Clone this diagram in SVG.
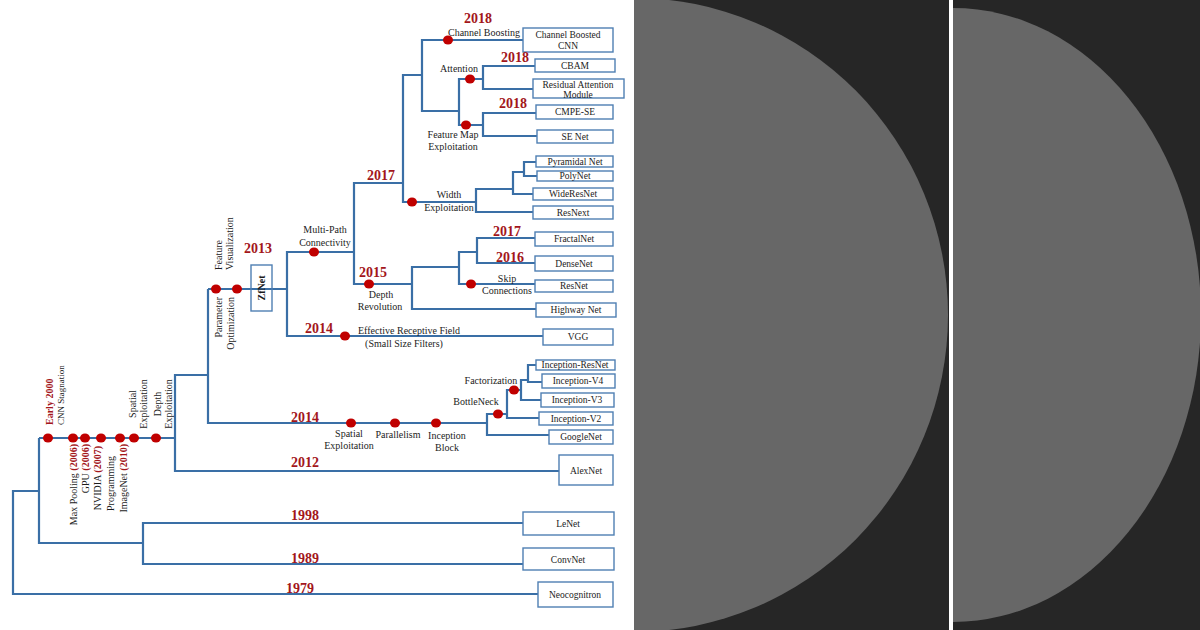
<svg xmlns="http://www.w3.org/2000/svg" width="1200" height="630" viewBox="0 0 1200 630">
<style>
text{font-family:"Liberation Serif","Times New Roman",serif;fill:#1c1c1c}
.lbl{font-size:10px;text-anchor:middle}
.bt{font-size:9.5px;text-anchor:middle}
.yr{font-size:14px;font-weight:bold;fill:#a3161b;text-anchor:middle}
.ry{font-weight:bold;fill:#a3161b}
.rt{font-size:10px}
.box{fill:#fff;stroke:#4f7fb3;stroke-width:1.4}
.ln{fill:none;stroke:#3a6fa6;stroke-width:2.2;stroke-linejoin:miter}
.dot{fill:#c00000}
</style>
<rect x="0" y="0" width="1200" height="630" fill="#fff"/>
<g id="panel">
<rect x="634" y="0" width="315" height="630" fill="#262626"/>
<rect x="953" y="0" width="247" height="630" fill="#262626"/>
<path d="M634,-2 A314,317 0 0 1 634,632 Z" fill="#676767"/>
<path d="M953,8 A248,307 0 0 1 953,622 Z" fill="#676767"/>
</g>
<g id="connectors" class="ln">
<path d="M39,491 H13 V594 H538"/>
<path d="M39,438 V543 H143"/>
<path d="M523,523 H143 V564 H523"/>
<path d="M39,438 H175"/>
<path d="M208,375 H175 V471 H559"/>
<path d="M208,289 V423 H487"/>
<path d="M208,289 H287"/>
<path d="M354,252 H287 V336 H543"/>
<path d="M403,183 H354 V284 H412"/>
<path d="M422,75 H403 V202 H476"/>
<path d="M523,40 H422 V111 H459"/>
<path d="M483,79 H459 V125 H483"/>
<path d="M535,66 H483 V89 H533"/>
<path d="M536,113 H483 V136 H537"/>
<path d="M513,189 H476 V212 H533"/>
<path d="M524,172 H513 V194 H533"/>
<path d="M536,162 H524 V176 H537"/>
<path d="M459,267 H412 V309 H536"/>
<path d="M477,252 H459 V284 H535"/>
<path d="M535,238 H477 V263 H535"/>
<path d="M507,414 H487 V435 H549"/>
<path d="M521,390 H507 V418 H539"/>
<path d="M528,380 H521 V400 H541"/>
<path d="M536,365 H528 V382 H542"/>
</g>
<g id="dots">
<ellipse class="dot" cx="448" cy="40" rx="5" ry="4.6"/>
<ellipse class="dot" cx="470" cy="79" rx="5" ry="4.6"/>
<ellipse class="dot" cx="466" cy="125" rx="5" ry="4.6"/>
<ellipse class="dot" cx="412" cy="202" rx="5" ry="4.6"/>
<ellipse class="dot" cx="471" cy="284" rx="5" ry="4.6"/>
<ellipse class="dot" cx="369" cy="284" rx="5" ry="4.6"/>
<ellipse class="dot" cx="314" cy="252" rx="5" ry="4.6"/>
<ellipse class="dot" cx="345" cy="336" rx="5" ry="4.6"/>
<ellipse class="dot" cx="216" cy="289" rx="5" ry="4.6"/>
<ellipse class="dot" cx="237" cy="289" rx="5" ry="4.6"/>
<ellipse class="dot" cx="351" cy="423" rx="5" ry="4.6"/>
<ellipse class="dot" cx="395" cy="423" rx="5" ry="4.6"/>
<ellipse class="dot" cx="436" cy="423" rx="5" ry="4.6"/>
<ellipse class="dot" cx="498" cy="414" rx="5" ry="4.6"/>
<ellipse class="dot" cx="514" cy="390" rx="5" ry="4.6"/>
<ellipse class="dot" cx="48" cy="438" rx="5" ry="4.6"/>
<ellipse class="dot" cx="73" cy="438" rx="5" ry="4.6"/>
<ellipse class="dot" cx="85" cy="438" rx="5" ry="4.6"/>
<ellipse class="dot" cx="101" cy="438" rx="5" ry="4.6"/>
<ellipse class="dot" cx="120" cy="438" rx="5" ry="4.6"/>
<ellipse class="dot" cx="134" cy="438" rx="5" ry="4.6"/>
<ellipse class="dot" cx="156" cy="438" rx="5" ry="4.6"/>
</g>
<g id="n-cbcnn"><rect class="box" x="523" y="28" width="90" height="24"/><text class="bt" x="568" y="38">Channel Boosted</text><text class="bt" x="568" y="49">CNN</text></g>
<g id="n-cbam"><rect class="box" x="535" y="59" width="80" height="13"/><text class="bt" x="575" y="69">CBAM</text></g>
<g id="n-ram"><rect class="box" x="533" y="79" width="91" height="19"/><text class="bt" x="578" y="88">Residual Attention</text><text class="bt" x="578" y="98">Module</text></g>
<g id="n-cmpe"><rect class="box" x="536" y="105" width="77" height="14"/><text class="bt" x="575" y="115">CMPE-SE</text></g>
<g id="n-se"><rect class="box" x="537" y="130" width="76" height="13"/><text class="bt" x="575" y="140">SE Net</text></g>
<g id="n-pyr"><rect class="box" x="536" y="156" width="77" height="11"/><text class="bt" x="575" y="165">Pyramidal Net</text></g>
<g id="n-poly"><rect class="box" x="537" y="171" width="76" height="10"/><text class="bt" x="575" y="179">PolyNet</text></g>
<g id="n-wide"><rect class="box" x="533" y="188" width="80" height="12"/><text class="bt" x="573" y="197">WideResNet</text></g>
<g id="n-resnext"><rect class="box" x="533" y="206" width="80" height="13"/><text class="bt" x="573" y="216">ResNext</text></g>
<g id="n-fractal"><rect class="box" x="535" y="232" width="78" height="14"/><text class="bt" x="574" y="242">FractalNet</text></g>
<g id="n-dense"><rect class="box" x="535" y="256" width="78" height="15"/><text class="bt" x="574" y="267">DenseNet</text></g>
<g id="n-resnet"><rect class="box" x="535" y="280" width="78" height="12"/><text class="bt" x="574" y="289">ResNet</text></g>
<g id="n-highway"><rect class="box" x="536" y="303" width="80" height="14"/><text class="bt" x="576" y="313">Highway Net</text></g>
<g id="n-vgg"><rect class="box" x="543" y="329" width="70" height="16"/><text class="bt" x="578" y="340">VGG</text></g>
<g id="n-irn"><rect class="box" x="536" y="360" width="79" height="10"/><text class="bt" x="575" y="368">Inception-ResNet</text></g>
<g id="n-iv4"><rect class="box" x="542" y="374" width="73" height="14"/><text class="bt" x="578" y="384">Inception-V4</text></g>
<g id="n-iv3"><rect class="box" x="541" y="393" width="73" height="14"/><text class="bt" x="577" y="403">Inception-V3</text></g>
<g id="n-iv2"><rect class="box" x="539" y="412" width="74" height="13"/><text class="bt" x="576" y="422">Inception-V2</text></g>
<g id="n-google"><rect class="box" x="549" y="430" width="64" height="14"/><text class="bt" x="581" y="440">GoogleNet</text></g>
<g id="n-alex"><rect class="box" x="559" y="455" width="54" height="30"/><text class="bt" x="586" y="474">AlexNet</text></g>
<g id="n-lenet"><rect class="box" x="523" y="512" width="91" height="23"/><text class="bt" x="568" y="527">LeNet</text></g>
<g id="n-convnet"><rect class="box" x="523" y="548" width="91" height="22"/><text class="bt" x="568" y="563">ConvNet</text></g>
<g id="n-neo"><rect class="box" x="538" y="582" width="75" height="25"/><text class="bt" x="575" y="598">Neocognitron</text></g>
<g id="n-zfnet"><rect x="251" y="265" width="21" height="46" fill="none" stroke="#4f7fb3" stroke-width="1.4"/><text transform="translate(265,288) rotate(-90)" font-size="10" font-weight="bold" text-anchor="middle">ZfNet</text></g>
<g id="years">
<text class="yr" x="478" y="23">2018</text>
<text class="yr" x="515" y="62">2018</text>
<text class="yr" x="513" y="108">2018</text>
<text class="yr" x="381" y="180">2017</text>
<text class="yr" x="507" y="236">2017</text>
<text class="yr" x="510" y="262">2016</text>
<text class="yr" x="373" y="277">2015</text>
<text class="yr" x="258" y="253">2013</text>
<text class="yr" x="319" y="333">2014</text>
<text class="yr" x="305" y="422">2014</text>
<text class="yr" x="305" y="467">2012</text>
<text class="yr" x="305" y="520">1998</text>
<text class="yr" x="305" y="563">1989</text>
<text class="yr" x="300" y="593">1979</text>
</g>
<g id="labels">
<text class="lbl" x="484" y="36">Channel Boosting</text>
<text class="lbl" x="459" y="72">Attention</text>
<text class="lbl" x="453" y="138">Feature Map</text>
<text class="lbl" x="453" y="150">Exploitation</text>
<text class="lbl" x="449" y="198">Width</text>
<text class="lbl" x="449" y="211">Exploitation</text>
<text class="lbl" x="325" y="233">Multi-Path</text>
<text class="lbl" x="325" y="246">Connectivity</text>
<text class="lbl" x="381" y="298">Depth</text>
<text class="lbl" x="380" y="310">Revolution</text>
<text class="lbl" x="507" y="282">Skip</text>
<text class="lbl" x="507" y="294">Connections</text>
<text class="lbl" x="409" y="334">Effective Receptive Field</text>
<text class="lbl" x="404" y="347">(Small Size Filters)</text>
<text class="lbl" x="491" y="384">Factorization</text>
<text class="lbl" x="476" y="405">BottleNeck</text>
<text class="lbl" x="349" y="437">Spatial</text>
<text class="lbl" x="349" y="449">Exploitation</text>
<text class="lbl" x="398" y="438">Parallelism</text>
<text class="lbl" x="447" y="439">Inception</text>
<text class="lbl" x="447" y="451">Block</text>
</g>
<g id="rotated-labels" class="rt">
<text transform="translate(222,270) rotate(-90)">Feature</text>
<text transform="translate(233,270) rotate(-90)">Visualization</text>
<text transform="translate(222,297) rotate(-90)" text-anchor="end">Parameter</text>
<text transform="translate(234,297) rotate(-90)" text-anchor="end">Optimization</text>
<text transform="translate(53,425) rotate(-90)" class="ry">Early 2000</text>
<text transform="translate(64,425) rotate(-90)" font-size="9">CNN Stagnation</text>
<text transform="translate(136,404) rotate(-90)" text-anchor="middle">Spatial</text>
<text transform="translate(147,404) rotate(-90)" text-anchor="middle">Exploitation</text>
<text transform="translate(161,404) rotate(-90)" text-anchor="middle">Depth</text>
<text transform="translate(172,404) rotate(-90)" text-anchor="middle">Exploitation</text>
<text transform="translate(76.5,444) rotate(-90)" text-anchor="end">Max Pooling <tspan class="ry">(2006)</tspan></text>
<text transform="translate(88.5,444) rotate(-90)" text-anchor="end">GPU <tspan class="ry">(2006)</tspan></text>
<text transform="translate(101,446) rotate(-90)" text-anchor="end">NVIDIA <tspan class="ry">(2007)</tspan></text>
<text transform="translate(113.5,456) rotate(-90)" text-anchor="end">Programming</text>
<text transform="translate(126.5,444) rotate(-90)" text-anchor="end">ImageNet <tspan class="ry">(2010)</tspan></text>
</g>
</svg>
